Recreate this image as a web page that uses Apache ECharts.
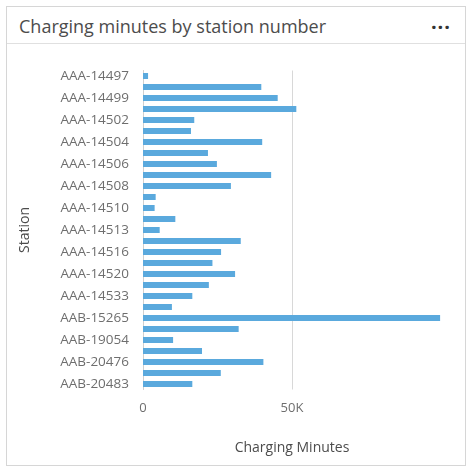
<!DOCTYPE html>
<html><head><meta charset="utf-8">
<script src="https://cdn.jsdelivr.net/npm/echarts@6/dist/echarts.min.js"></script>
<style>
html,body{margin:0;padding:0;background:#fff;font-family:"Open Sans","Noto Sans",sans-serif;}
#card{position:absolute;left:6px;top:6px;width:460px;height:460px;border:1px solid #d6d6d6;box-sizing:border-box;}
#title{position:absolute;left:12px;top:7px;font-size:18px;color:#4c4c4c;}
#dots{position:absolute;right:14px;top:6px;font-size:20px;color:#333;letter-spacing:1px;font-weight:bold;}
#sep{position:absolute;left:0;right:0;top:36px;border-top:1px solid #e0e0e0;}
#chart{position:absolute;left:0;top:0;width:474px;height:474px;}
</style></head><body>
<div id="card"><div id="title">Charging minutes by station number</div><div id="dots">···</div><div id="sep"></div></div>
<div id="chart"></div>
<script>
const categories = ["AAA-14497","AAA-14498","AAA-14499","AAA-14500","AAA-14502","AAA-14503","AAA-14504","AAA-14505","AAA-14506","AAA-14507","AAA-14508","AAA-14509","AAA-14510","AAA-14512","AAA-14513","AAA-14515","AAA-14516","AAA-14518","AAA-14520","AAA-14530","AAA-14533","AAA-14540","AAB-15265","AAB-15270","AAB-19054","AAB-20470","AAB-20476","AAB-20480","AAB-20483"];
const values = [1700,39700,45200,51450,17200,16100,40000,21800,24800,43000,29500,4250,3900,10850,5600,32800,26200,23300,30900,22100,16550,9700,99700,32100,10100,19800,40400,26100,16550];
const xTicks = {0:"0",50000:"50K"};
const c = echarts.init(document.getElementById('chart'));
c.setOption({
  animation:false,
  grid:{left:143,top:70.5,width:298,height:319},
  xAxis:{type:'value',min:0,max:100000,interval:50000,
    name:'Charging Minutes',nameLocation:'middle',nameGap:52,
    nameTextStyle:{color:'#4c4c4c',fontSize:14,fontFamily:'Open Sans'},
    axisLine:{show:false},axisTick:{show:false},
    axisLabel:{color:'#6e6e6e',fontSize:13,fontFamily:'Open Sans',margin:12,formatter:v=>xTicks[v]||''},
    splitLine:{showMaxLine:false,lineStyle:{color:'#d8d8d8'}}},
  yAxis:{type:'category',data:categories,inverse:true,
    name:'Station',nameLocation:'middle',nameGap:111,nameRotate:90,
    nameTextStyle:{color:'#4c4c4c',fontSize:14,fontFamily:'Open Sans'},
    axisLine:{lineStyle:{color:'#d0d0d0'}},axisTick:{show:false},
    axisLabel:{interval:1,color:'#6e6e6e',fontSize:13.5,fontFamily:'Open Sans',margin:14}},
  series:[{type:'bar',data:values,barWidth:6,itemStyle:{color:'#5aa9dd'}}]
});
</script></body></html>
